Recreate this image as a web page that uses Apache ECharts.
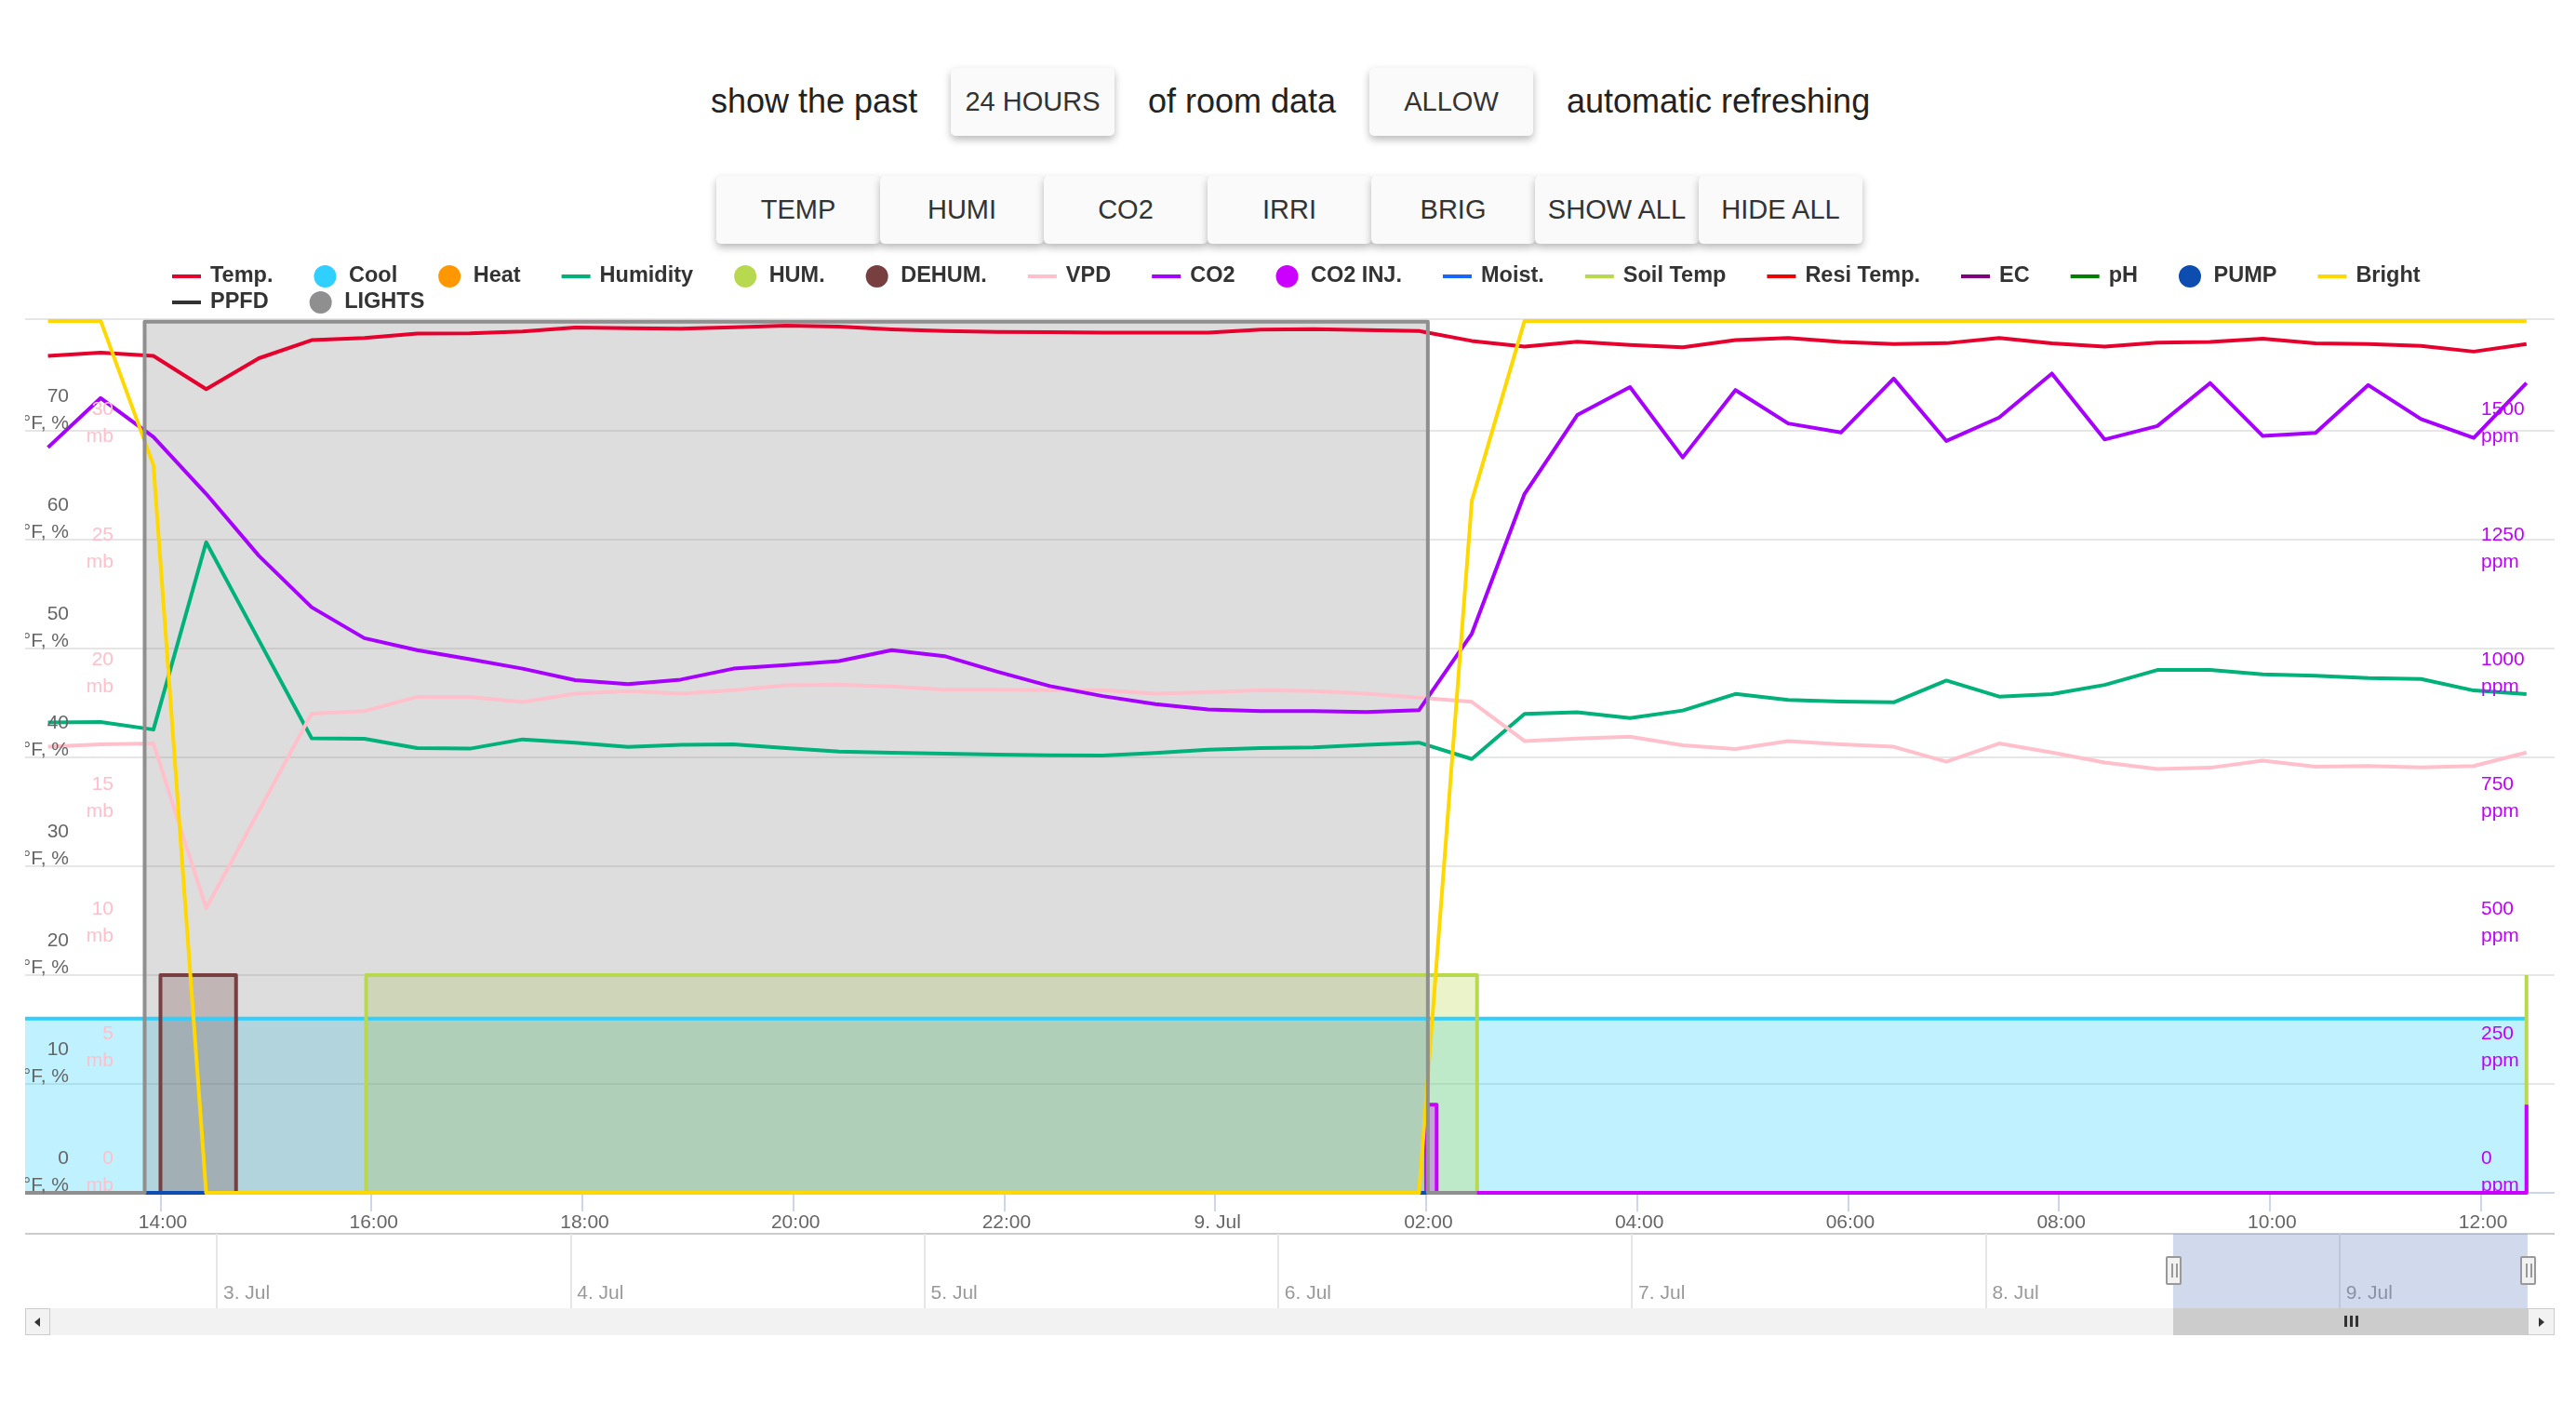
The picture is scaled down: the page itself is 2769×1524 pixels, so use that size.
<!DOCTYPE html>
<html>
<head>
<meta charset="utf-8">
<title>room data</title>
<script src="https://cdn.jsdelivr.net/npm/echarts@6/dist/echarts.min.js"></script>
<style>
  html, body { margin: 0; background: #fff; font-family: "Liberation Sans", Arial, sans-serif; }
  #page { position: relative; width: 2769px; height: 1524px; overflow: hidden; }
  .txt { position: absolute; top: 74px; line-height: 70px; font-size: 36px; color: #222; white-space: nowrap; }
  .btn { position: absolute; width: 176px; height: 73px; line-height: 73px; text-align: center; font-size: 29px;
         color: #333; background: #fafafa; border-radius: 5px; box-shadow: 0 4px 9px rgba(0,0,0,.28); white-space: nowrap; }
  #chart { position: absolute; left: 27px; top: 270px; width: 2719px; height: 1140px; }
  .bar { position: absolute; top: 1406px; height: 29px; box-sizing: border-box; }
  .grip { position: absolute; top: 1350px; width: 17px; height: 31px; box-sizing: border-box; margin-left: -8px;
          background: #f2f2f2; border: 2px solid #999; border-radius: 2px; }
  .grip:after { content: ""; position: absolute; left: 4px; top: 6px; width: 3px; height: 15px;
                border-left: 2px solid #999; border-right: 2px solid #999; }
</style>
</head>
<body>
<div id="page">
  <div class="txt" style="left:764px">show the past</div>
  <div class="btn" style="left:1022px;top:73px">24 HOURS</div>
  <div class="txt" style="left:1234px">of room data</div>
  <div class="btn" style="left:1472px;top:73px">ALLOW</div>
  <div class="txt" style="left:1684px">automatic refreshing</div>

  <div class="btn" style="left:770px;top:189px">TEMP</div>
  <div class="btn" style="left:946px;top:189px">HUMI</div>
  <div class="btn" style="left:1122px;top:189px">CO2</div>
  <div class="btn" style="left:1298px;top:189px">IRRI</div>
  <div class="btn" style="left:1474px;top:189px">BRIG</div>
  <div class="btn" style="left:1650px;top:189px">SHOW ALL</div>
  <div class="btn" style="left:1826px;top:189px">HIDE ALL</div>

  <div id="chart"></div>

  <div class="grip" style="left:2336px"></div>
  <div class="grip" style="left:2717px"></div>

  <div class="bar" style="left:27px;width:2719px;background:#f2f2f2"></div>
  <div class="bar" style="left:2336px;width:381px;background:#ccc"></div>
  <div class="bar" style="left:2520px;width:3px;top:1414px;height:12px;background:#333"></div>
  <div class="bar" style="left:2526px;width:3px;top:1414px;height:12px;background:#333"></div>
  <div class="bar" style="left:2532px;width:3px;top:1414px;height:12px;background:#333"></div>
  <div class="bar" style="left:27px;width:27px;background:#f2f2f2;border:1px solid #ccc"></div>
  <div class="bar" style="left:2717px;width:29px;background:#f2f2f2;border:1px solid #ccc"></div>
  <div class="bar" style="left:37px;top:1416px;height:0;border:5px solid transparent;border-right:6px solid #333;border-left:0"></div>
  <div class="bar" style="left:2729px;top:1416px;height:0;border:5px solid transparent;border-left:6px solid #333;border-right:0"></div>
</div>

<script>
// half hourly samples of the last 24 hours
const sampleTimes = [
  '12:56','13:26','13:56','14:26','14:56','15:26','15:56','16:26','16:56','17:26','17:56','18:26',
  '18:56','19:26','19:56','20:26','20:56','21:26','21:56','22:26','22:56','23:26','23:56','00:26',
  '00:56','01:26','01:56','02:26','02:56','03:26','03:56','04:26','04:56','05:26','05:56','06:26',
  '06:56','07:26','07:56','08:26','08:56','09:26','09:56','10:26','10:56','11:26','11:56','12:26'
]
const tempValues = [
  76.85,77.16,76.85,73.8,76.64,78.3,78.5,78.9,78.93,79.1,79.46,79.4,
  79.35,79.48,79.63,79.54,79.29,79.14,79.06,79.03,79.0,79.0,79.0,79.26,
  79.32,79.23,79.14,78.23,77.7,78.16,77.86,77.65,78.3,78.5,78.14,77.94,
  78.02,78.5,78.0,77.7,78.07,78.14,78.44,78.0,77.94,77.77,77.25,77.94
]
const humidityValues = [
  43.19,43.24,42.54,59.74,50.74,41.74,41.7,40.84,40.79,41.64,41.34,40.94,
  41.14,41.18,40.84,40.53,40.41,40.33,40.24,40.18,40.16,40.39,40.7,40.84,
  40.9,41.14,41.34,39.84,43.99,44.14,43.59,44.29,45.81,45.27,45.11,45.04,
  47.04,45.57,45.79,46.64,48.01,48.01,47.61,47.49,47.27,47.19,46.13,45.79
]
const vpdValues = [
  17.87,17.97,18.0,11.4,15.3,19.2,19.3,19.87,19.87,19.66,20.0,20.1,
  20.0,20.14,20.33,20.35,20.29,20.16,20.16,20.14,20.14,20.0,20.05,20.14,
  20.1,20.0,19.84,19.67,18.1,18.2,18.27,17.93,17.78,18.1,17.97,17.87,
  17.27,18.0,17.64,17.24,16.98,17.03,17.31,17.07,17.1,17.04,17.1,17.64
]
const co2Values = [
  1493,1592,1514,1400,1276,1173,1111,1087,1069,1050,1027,1019,
  1028,1050,1057,1065,1087,1075,1044,1015,995,979,968,965,
  965,963,967,1120,1400,1558,1614,1473,1608,1541,1523,1631,
  1506,1553,1641,1509,1536,1622,1516,1522,1618,1550,1512,1622
]
const brightValues = [
  99.8,99.8,83.3,0,0,0,0,0,0,0,0,0,
  0,0,0,0,0,0,0,0,0,0,0,0,
  0,0,0,79.2,99.8,99.8,99.8,99.8,99.8,99.8,99.8,99.8,
  99.8,99.8,99.8,99.8,99.8,99.8,99.8,99.8,99.8,99.8,99.8,99.8
]
// on/off series, time and level
const coolPoints = [['12:43',16],['12:26',16]]
const humPoints = [['12:43',0],['15:57',20],['02:29',0],['12:26',20]]
const dehumPoints = [['14:00',0],['14:00',20],['14:43',0]]
const co2InjPoints = [['02:00',0],['02:00',8.1],['02:06',0],['12:26',8.1]]
const pumpPoints = [['12:43',0],['02:29',0]]
const lightsPoints = [['12:43',0],['13:51',80],['02:01',0],['02:29',0]]

const windowStart = '12:43'
const windowEnd = '12:42'
const hourTicks = ['14:00','16:00','18:00','20:00','22:00','00:00','02:00','04:00','06:00','08:00','10:00','12:00']
const tempTicks = [0,10,20,30,40,50,60,70]
const vpdTicks = [0,5,10,15,20,25,30]
const co2Ticks = [0,250,500,750,1000,1250,1500]
const navDays = [3,4,5,6,7,8,9]

const TEMP_MAX = 80.23
const navTicks = navDays.map(d => Date.UTC(2021, 6, d))
const navRange = [Date.UTC(2021, 6, 8, 12, 43), Date.UTC(2021, 6, 9, 12, 46)]

// everything before the window start belongs to 9 Jul
function toTime(hhmm) {
  const [h, m] = hhmm.split(':').map(Number)
  return Date.UTC(2021, 6, hhmm < windowStart ? 9 : 8, h, m)
}
const zipSamples = values => sampleTimes.map((t, i) => [toTime(t), values[i]])
const toPoints = list => list.map(([t, v]) => [toTime(t), v])
const pad = n => String(n).padStart(2, '0')

function lineSeries(name, color, data, yAxisIndex) {
  return {
    name, type: 'line', data, yAxisIndex, xAxisIndex: 0,
    symbol: 'none', animation: false,
    itemStyle: { color },
    lineStyle: { color, width: 4, join: 'round' }
  }
}
function stepSeries(name, color, data, yAxisIndex) {
  const s = lineSeries(name, color, data, yAxisIndex)
  s.step = 'end'
  s.areaStyle = { color, opacity: 0.3 }
  return s
}

const COLORS = {
  temp: '#e6002d', cool: '#2fcfff', heat: '#ff9800', humidity: '#00b27a', hum: '#b8d850', dehum: '#783f40',
  vpd: '#ffc0cb', co2: '#a600ff', co2Inj: '#cc00ff', moist: '#1666ff', soil: '#b8d850', resi: '#f00000',
  ec: '#800080', ph: '#008000', pump: '#0e4db0', bright: '#ffd800', ppfd: '#333333', lights: '#8f8f8f'
}

const LINE_ICON = 'path://M0 0h31v4H0z'
const legendItem = (name, color, dot) => ({ name, icon: dot ? 'circle' : LINE_ICON, itemStyle: { color } })
const legendBase = {
  left: 158, padding: 0, itemWidth: 31, itemHeight: 24, itemGap: 44, selectedMode: false, orient: 'horizontal',
  textStyle: { fontFamily: 'Liberation Sans', fontSize: 23.5, fontWeight: 'bold', color: '#333', padding: [0, 0, 0, 5] }
}
const labelBase = { inside: true, fontFamily: 'Liberation Sans', fontSize: 21, lineHeight: 29, verticalAlign: 'bottom', padding: [0, 0, -7, 0] }

const chart = echarts.init(document.getElementById('chart'))
chart.setOption({
  animation: false,
  backgroundColor: 'transparent',
  legend: [
    Object.assign({}, legendBase, {
      top: 15,
      data: [
        legendItem('Temp.', COLORS.temp), legendItem('Cool', COLORS.cool, true), legendItem('Heat', COLORS.heat, true),
        legendItem('Humidity', COLORS.humidity), legendItem('HUM.', COLORS.hum, true), legendItem('DEHUM.', COLORS.dehum, true),
        legendItem('VPD', COLORS.vpd), legendItem('CO2', COLORS.co2), legendItem('CO2 INJ.', COLORS.co2Inj, true),
        legendItem('Moist.', COLORS.moist), legendItem('Soil Temp', COLORS.soil), legendItem('Resi Temp.', COLORS.resi),
        legendItem('EC', COLORS.ec), legendItem('pH', COLORS.ph), legendItem('PUMP', COLORS.pump, true),
        legendItem('Bright', COLORS.bright)
      ]
    }),
    Object.assign({}, legendBase, {
      top: 43,
      data: [legendItem('PPFD', COLORS.ppfd), legendItem('LIGHTS', COLORS.lights, true)]
    })
  ],
  grid: [
    { left: 0, right: 0, top: 73, height: 939, outerBoundsMode: 'none' },
    { left: 0, right: 0, top: 1056, height: 80, outerBoundsMode: 'none' }
  ],
  xAxis: [
    {
      type: 'value', gridIndex: 0, min: toTime(windowStart), max: toTime(windowEnd),
      axisLine: { onZero: false, lineStyle: { color: '#ccd6eb', width: 2 } },
      axisTick: { length: 20, lineStyle: { color: '#ccd6eb', width: 2 }, customValues: hourTicks.map(toTime) },
      splitLine: { show: false },
      axisLabel: {
        customValues: hourTicks.map(toTime), margin: 22, color: '#666', fontFamily: 'Liberation Sans', fontSize: 21,
        padding: [0, 0, 0, 5],
        formatter: v => {
          const d = new Date(v)
          if (d.getUTCHours() === 0) return d.getUTCDate() + '. Jul'
          return pad(d.getUTCHours()) + ':' + pad(d.getUTCMinutes())
        }
      }
    },
    {
      type: 'value', gridIndex: 1, min: Date.UTC(2021, 6, 2, 11), max: Date.UTC(2021, 6, 9, 14, 36),
      axisLine: { show: false },
      axisTick: { show: false, customValues: navTicks },
      splitLine: { show: true, lineStyle: { color: '#e6e6e6', width: 2 } },
      axisLabel: {
        inside: true, margin: 5, color: '#999', align: 'left', padding: [0, 0, 0, 7],
        fontFamily: 'Liberation Sans', fontSize: 21,
        customValues: navTicks,
        formatter: v => new Date(v).getUTCDate() + '. Jul'
      }
    }
  ],
  yAxis: [
    {
      type: 'value', gridIndex: 0, min: 0, max: TEMP_MAX, position: 'left', z: 5,
      axisLine: { show: false }, splitLine: { show: false },
      axisTick: { show: false, customValues: tempTicks },
      axisLabel: Object.assign({}, labelBase, {
        margin: 47, align: 'right', color: '#666', customValues: tempTicks,
        formatter: v => v + '\n°F, %'
      })
    },
    {
      type: 'value', gridIndex: 0, min: 0, max: 35, position: 'left', z: 5,
      axisLine: { show: false }, splitLine: { show: false },
      axisTick: { show: false, customValues: vpdTicks },
      axisLabel: Object.assign({}, labelBase, {
        margin: 95, align: 'right', color: '#ffc0cb', customValues: vpdTicks,
        formatter: v => v + '\nmb'
      })
    },
    {
      type: 'value', gridIndex: 0, min: 0, max: 1750, position: 'right', z: 5,
      axisLine: { show: false }, splitLine: { show: false },
      axisTick: { show: false, customValues: co2Ticks },
      axisLabel: Object.assign({}, labelBase, {
        margin: 79, align: 'left', color: '#c000ff', customValues: co2Ticks,
        formatter: v => v + '\nppm'
      })
    },
    {
      // brightness in percent, no labels
      type: 'value', gridIndex: 0, min: 0, max: 100, show: false
    },
    {
      // only here for the grid lines, sits below the series
      type: 'value', gridIndex: 0, min: 0, max: TEMP_MAX, z: 0,
      axisLine: { show: false }, axisLabel: { show: false },
      axisTick: { show: false, customValues: tempTicks.concat(TEMP_MAX) },
      splitLine: { show: true, lineStyle: { color: '#e6e6e6', width: 2 } }
    },
    {
      // navigator, top border
      type: 'value', gridIndex: 1, min: 0, max: 1,
      axisLine: { show: false }, axisLabel: { show: false },
      axisTick: { show: false, customValues: [1] },
      splitLine: { show: true, lineStyle: { color: '#ccc', width: 2 } }
    }
  ],
  series: [
    lineSeries('Temp.', COLORS.temp, zipSamples(tempValues), 0),
    stepSeries('Cool', COLORS.cool, toPoints(coolPoints), 0),
    lineSeries('Heat', COLORS.heat, [], 0),
    lineSeries('Humidity', COLORS.humidity, zipSamples(humidityValues), 0),
    stepSeries('HUM.', COLORS.hum, toPoints(humPoints), 0),
    stepSeries('DEHUM.', COLORS.dehum, toPoints(dehumPoints), 0),
    lineSeries('VPD', COLORS.vpd, zipSamples(vpdValues), 1),
    lineSeries('CO2', COLORS.co2, zipSamples(co2Values), 2),
    stepSeries('CO2 INJ.', COLORS.co2Inj, toPoints(co2InjPoints), 0),
    lineSeries('Moist.', COLORS.moist, [], 0),
    lineSeries('Soil Temp', COLORS.soil, [], 0),
    lineSeries('Resi Temp.', COLORS.resi, [], 0),
    lineSeries('EC', COLORS.ec, [], 0),
    lineSeries('pH', COLORS.ph, [], 0),
    lineSeries('PUMP', COLORS.pump, toPoints(pumpPoints), 0),
    lineSeries('Bright', COLORS.bright, zipSamples(brightValues), 3),
    lineSeries('PPFD', COLORS.ppfd, [], 0),
    stepSeries('LIGHTS', COLORS.lights, toPoints(lightsPoints), 0),
    {
      // selected range in the navigator
      name: 'range', type: 'line', xAxisIndex: 1, yAxisIndex: 5, symbol: 'none',
      data: [[navRange[0], 1], [navRange[1], 1]],
      lineStyle: { width: 0 },
      areaStyle: { color: 'rgb(102,133,194)', opacity: 0.3 }
    }
  ]
})
</script>
</body>
</html>
